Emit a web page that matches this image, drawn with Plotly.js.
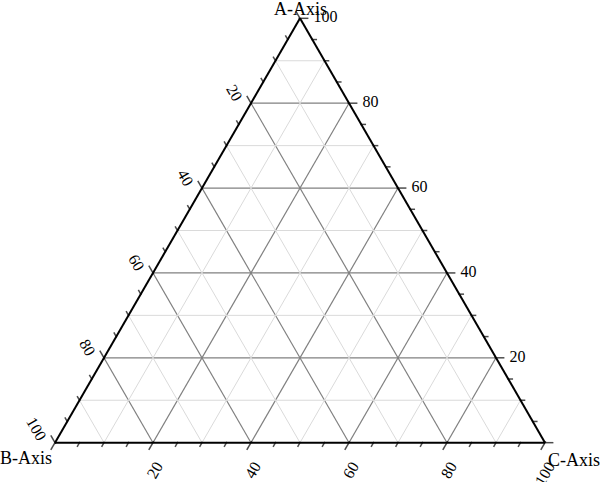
<!DOCTYPE html>
<html>
<head>
<meta charset="utf-8">
<script src="https://cdn.plot.ly/plotly-3.0.1.min.js"></script>
<style>body{margin:0;background:#fff}#plot{width:600px;height:482px}</style>
</head>
<body>
<div id="plot"></div>
<script>
// tick values / labels
let labelVals = [20, 40, 60, 80, 100];          // what each edge shows
let majorTicks = [0, 20, 40, 60, 80, 100];
let minorTicks = [5, 10, 15, 25, 30, 35, 45, 50, 55, 65, 70, 75, 85, 90, 95];
let minorGrid = [10, 30, 50, 70, 90];           // light grid lines
let axisNames = ['A-Axis', 'B-Axis', 'C-Axis'];

let fam = 'Liberation Serif, DejaVu Serif, serif';
let tickFont = {family: fam, size: 16, color: '#000'};

// light grid every 10 (the library grid gives the darker 20s)
let ga = [], gb = [], gc = [];
for (let v of minorGrid) {
    ga.push(v, v, null); gb.push(100 - v, 0, null); gc.push(0, 100 - v, null);
    ga.push(100 - v, 0, null); gb.push(v, v, null); gc.push(0, 100 - v, null);
    ga.push(100 - v, 0, null); gb.push(0, 100 - v, null); gc.push(v, v, null);
}

// ticks: short line markers sitting on each edge, pushed outwards
function tickTrace(edge, angle) {
    let a = [], b = [], c = [], size = [];
    let all = majorTicks.map(v => [v, 7]).concat(minorTicks.map(v => [v, 4]));
    for (let [v, len] of all) {
        if (edge == 'right') { a.push(v); b.push(0); c.push(100 - v); }
        if (edge == 'left') { a.push(100 - v); b.push(v); c.push(0); }
        if (edge == 'bottom') { a.push(0); b.push(100 - v); c.push(v); }
        size.push(len);
    }
    return {
        type: 'scatterternary', mode: 'markers', a: a, b: b, c: c,
        cliponaxis: false, hoverinfo: 'skip', showlegend: false,
        marker: {symbol: 'line-ns', angle: angle, standoff: size.map(s => s / 2),
                 size: size, color: '#000', line: {color: '#000', width: 1.5}}
    };
}

let data = [
    {
        type: 'scatterternary', mode: 'lines', a: ga, b: gb, c: gc,
        line: {color: '#dadada', width: 1}, hoverinfo: 'skip', showlegend: false
    },
    tickTrace('right', 270),
    tickTrace('left', 150),
    tickTrace('bottom', 30),
    {
        // A labels sit on the right edge
        type: 'scatterternary', mode: 'markers+text',
        a: labelVals, b: labelVals.map(v => 0), c: labelVals.map(v => 100 - v),
        text: labelVals.map(String), textposition: 'middle right',
        marker: {size: 20, opacity: 0},
        textfont: tickFont, cliponaxis: false, hoverinfo: 'skip', showlegend: false
    }
];

let ax = {
    ticks: 'outside', ticklen: 7, tickcolor: 'rgba(0,0,0,0)',
    linecolor: '#000', linewidth: 2,
    gridcolor: '#808080', gridwidth: 1.2,
    tickfont: tickFont, tickmode: 'array',
    title: {text: ''}
};

// B labels on the left edge and C labels on the bottom edge
let revVals = labelVals.map(v => 100 - v);

let titleFont = {family: fam, size: 18, color: '#000'};
let layout = {
    width: 600, height: 482,
    margin: {l: 55, r: 55, t: 18, b: 39},
    paper_bgcolor: '#fff',
    showlegend: false,
    ternary: {
        bgcolor: '#fff',
        sum: 100,
        aaxis: Object.assign({}, ax, {tickvals: revVals, ticktext: labelVals.map(String), tickangle: 60}),
        baxis: Object.assign({}, ax, {tickvals: revVals, ticktext: labelVals.map(String), tickangle: -60}),
        caxis: Object.assign({}, ax, {tickvals: [20, 40, 60, 80], showticklabels: false})
    },
    annotations: [
        {text: axisNames[0], xref: 'paper', yref: 'paper', x: 0.5, y: 1.02,
         xanchor: 'center', yanchor: 'middle', showarrow: false, font: titleFont},
        {text: axisNames[1], xref: 'paper', yref: 'paper', x: 0, y: -0.035, xshift: -1,
         xanchor: 'right', yanchor: 'middle', showarrow: false, font: titleFont},
        {text: axisNames[2], xref: 'paper', yref: 'paper', x: 1, y: -0.04, xshift: 1,
         xanchor: 'left', yanchor: 'middle', showarrow: false, font: titleFont}
    ]
};

Plotly.newPlot('plot', data, layout, {displayModeBar: false, staticPlot: true});
</script>
</body>
</html>
